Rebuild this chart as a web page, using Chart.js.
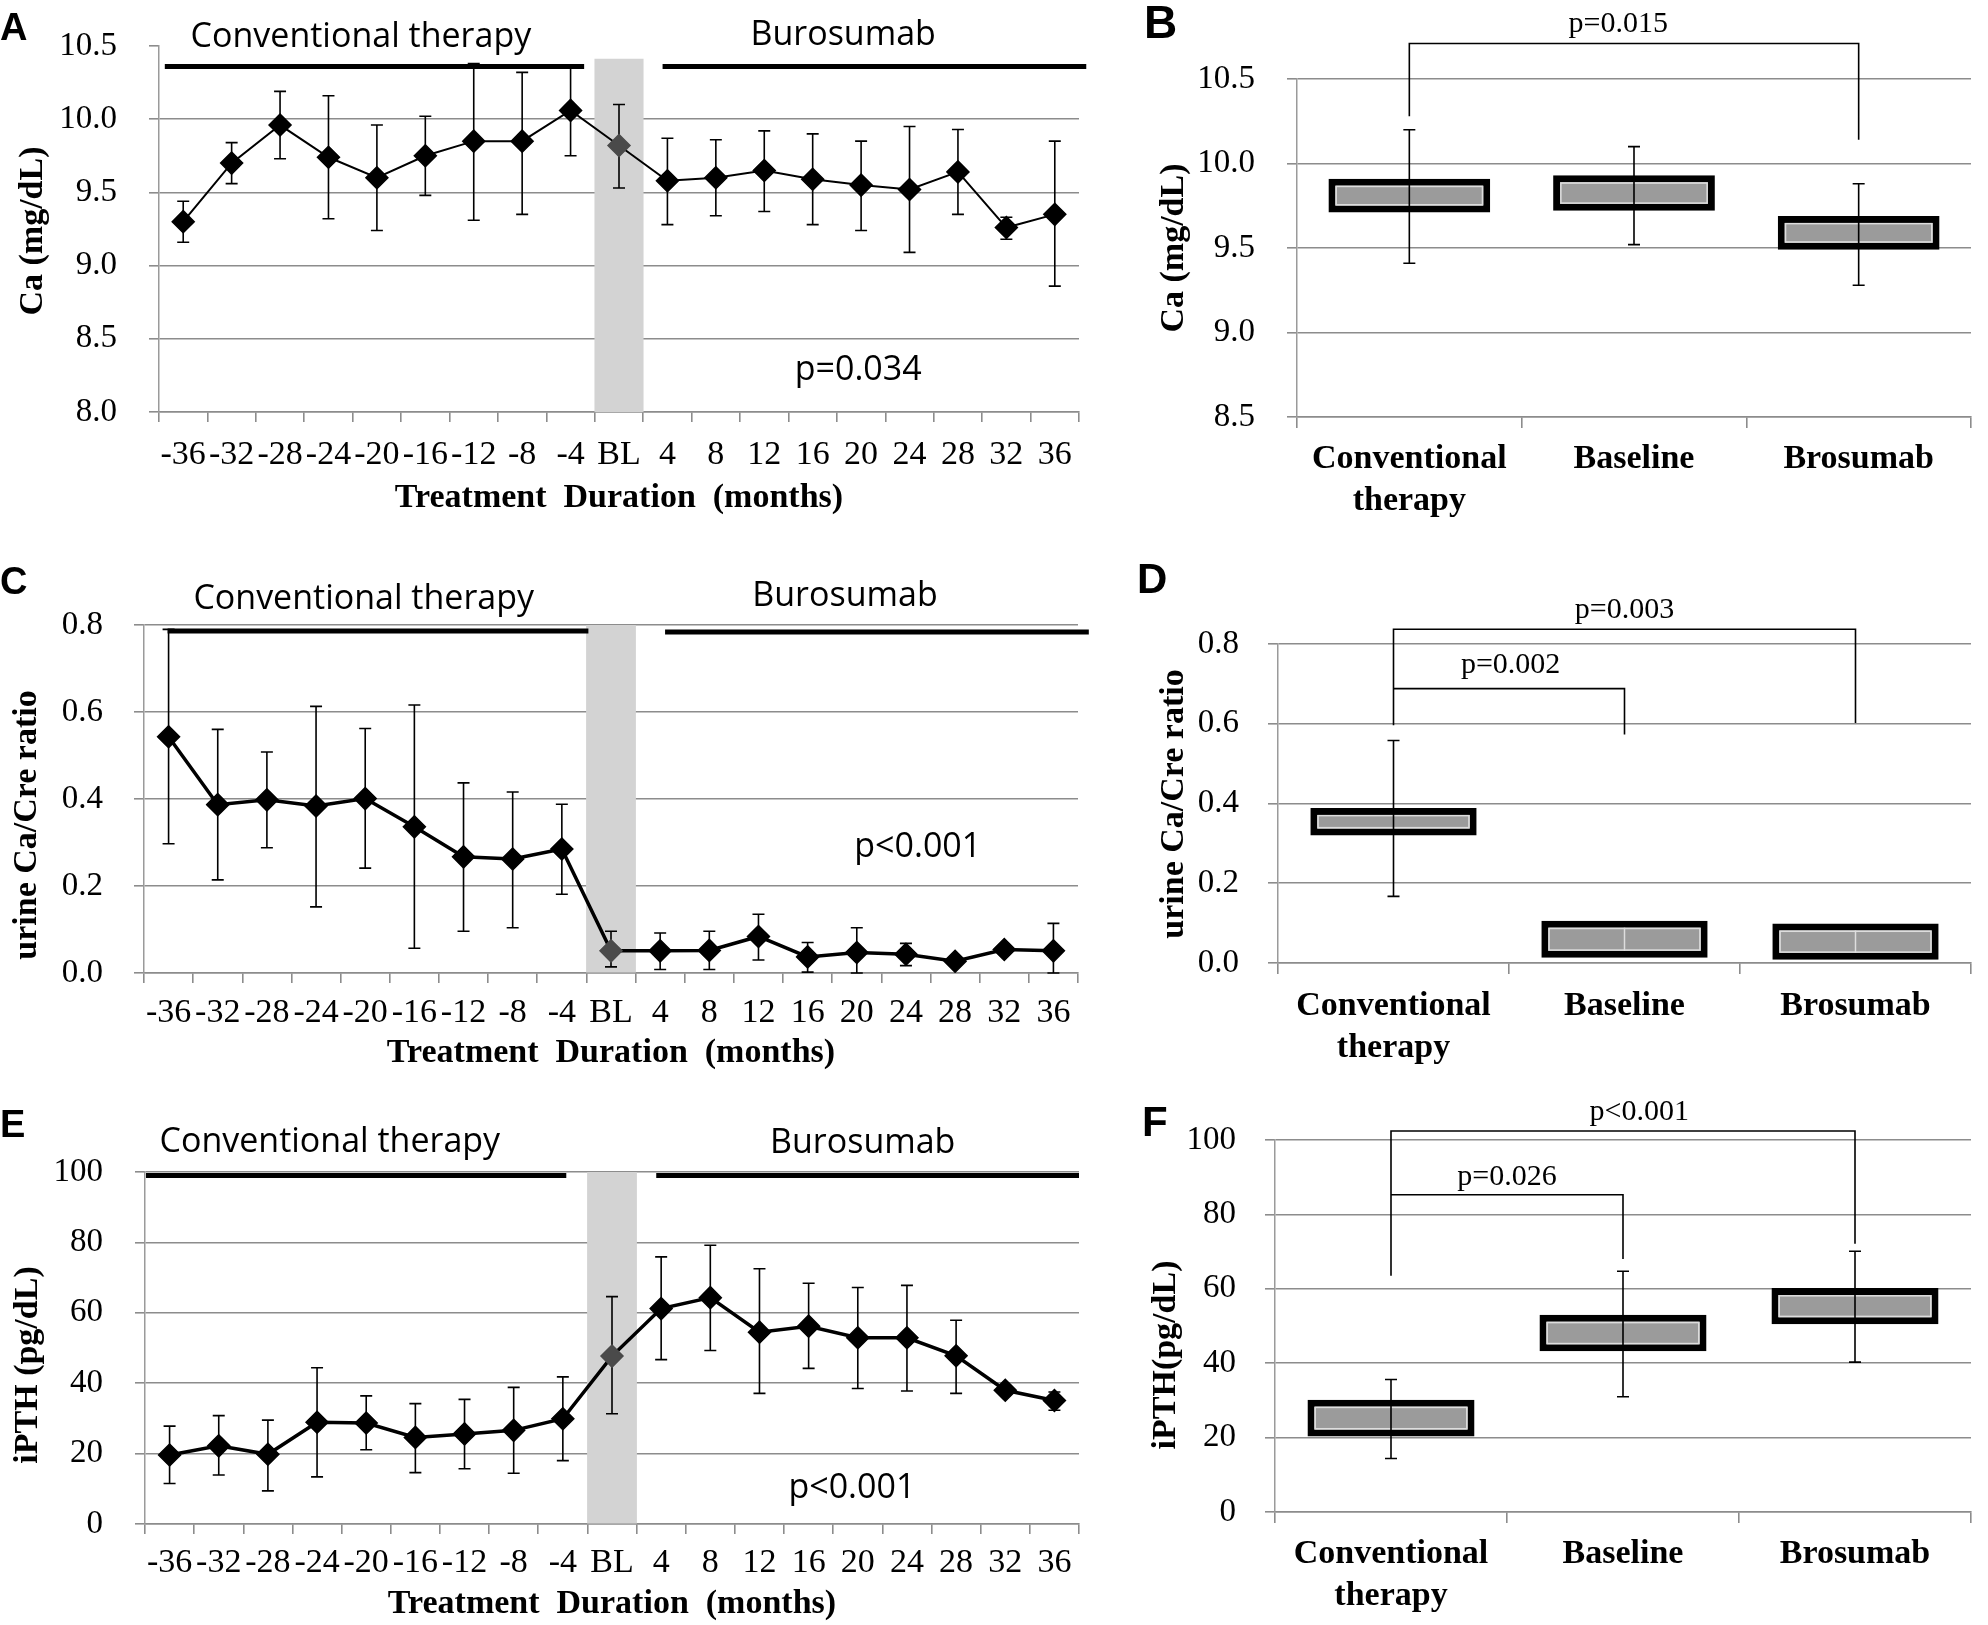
<!DOCTYPE html>
<html>
<head>
<meta charset="utf-8">
<title>Ca, urine Ca/Cre and iPTH</title>
<script src="https://cdn.jsdelivr.net/npm/chart.js@4.4.1/dist/chart.umd.min.js"></script>
<style>
  html, body { margin: 0; padding: 0; background: #fff; }
  body { position: relative; width: 1988px; height: 1625px; overflow: hidden; }
  canvas { position: absolute; }
  .tag { position: absolute; font-family: "Liberation Sans", Arial, sans-serif; font-weight: bold; color: #000; }
</style>
</head>
<body>
<canvas id="chartA" width="1150" height="540" style="left:0;top:0"></canvas>
<canvas id="chartB" width="838" height="540" style="left:1150px;top:0"></canvas>
<canvas id="chartC" width="1150" height="540" style="left:0;top:560px"></canvas>
<canvas id="chartD" width="838" height="540" style="left:1150px;top:560px"></canvas>
<canvas id="chartE" width="1150" height="525" style="left:0;top:1100px"></canvas>
<canvas id="chartF" width="838" height="525" style="left:1150px;top:1100px"></canvas>
<div class="tag" style="left:0px;top:8px;font-size:38px;line-height:38px">A</div>
<div class="tag" style="left:1144px;top:-1px;font-size:46px;line-height:46px">B</div>
<div class="tag" style="left:0px;top:562px;font-size:38px;line-height:38px">C</div>
<div class="tag" style="left:1137px;top:558px;font-size:42px;line-height:42px">D</div>
<div class="tag" style="left:0px;top:1105px;font-size:38px;line-height:38px">E</div>
<div class="tag" style="left:1142px;top:1101px;font-size:42px;line-height:42px">F</div>
<script>
// time points (months)
var months = ["-36", "-32", "-28", "-24", "-20", "-16", "-12", "-8", "-4", "BL",
  "4", "8", "12", "16", "20", "24", "28", "32", "36"];

// serum Ca (mg/dL): mean and error bar ends
var caMean = [9.30, 9.70, 9.96, 9.74, 9.60, 9.75, 9.85, 9.85, 10.06, 9.82, 9.58, 9.60, 9.65, 9.59, 9.55, 9.52, 9.64, 9.26, 9.35];
var caHigh = [9.44, 9.84, 10.19, 10.16, 9.96, 10.02, 10.38, 10.32, 10.35, 10.10, 9.87, 9.86, 9.92, 9.90, 9.85, 9.95, 9.93, 9.33, 9.85];
var caLow = [9.16, 9.56, 9.73, 9.32, 9.24, 9.48, 9.31, 9.35, 9.75, 9.53, 9.28, 9.34, 9.37, 9.28, 9.24, 9.09, 9.35, 9.18, 8.86];

// urine Ca/Cre ratio
var ratioMean = [0.543, 0.387, 0.398, 0.384, 0.401, 0.336, 0.267, 0.262, 0.285, 0.051, 0.051, 0.052, 0.084, 0.037, 0.047, 0.043, 0.027, 0.054, 0.051];
var ratioHigh = [0.79, 0.560, 0.508, 0.613, 0.562, 0.616, 0.437, 0.416, 0.388, 0.096, 0.092, 0.096, 0.135, 0.070, 0.104, 0.068, 0.032, 0.062, 0.114];
var ratioLow = [0.297, 0.214, 0.288, 0.152, 0.241, 0.057, 0.096, 0.104, 0.181, 0.014, 0.008, 0.008, 0.030, 0.002, 0.0, 0.017, 0.022, 0.046, 0.0];

// iPTH (pg/dL)
var pthMean = [19.6, 22.2, 19.8, 28.9, 28.7, 24.6, 25.6, 26.6, 29.9, 47.7, 61.2, 64.3, 54.5, 56.2, 52.9, 52.9, 47.8, 38.0, 35.1];
var pthHigh = [27.8, 30.8, 29.5, 44.4, 36.4, 34.2, 35.4, 38.8, 41.8, 64.6, 75.9, 79.2, 72.5, 68.4, 67.2, 67.8, 57.9, 39.0, 37.5];
var pthLow = [11.5, 13.9, 9.4, 13.4, 21.1, 14.6, 15.7, 14.4, 18.0, 31.3, 46.7, 49.3, 37.1, 44.2, 38.5, 37.8, 37.1, 37.0, 32.3];

// period groups (right-hand panels)
var groups = [["Conventional", "therapy"], "Baseline", "Brosumab"];
var caBoxLow = [9.71, 9.72, 9.49];
var caBoxHigh = [9.91, 9.93, 9.69];
var caBoxErrHigh = [10.20, 10.10, 9.88];
var caBoxErrLow = [9.41, 9.52, 9.28];
var ratioBoxLow = [0.320, 0.013, 0.008];
var ratioBoxHigh = [0.389, 0.106, 0.099];
var ratioBoxErrHigh = [0.558, null, null];
var ratioBoxErrLow = [0.167, null, null];
var pthBoxLow = [20.3, 43.2, 50.5];
var pthBoxHigh = [30.2, 53.0, 60.2];
var pthBoxErrHigh = [35.6, 64.7, 70.1];
var pthBoxErrLow = [14.4, 31.0, 40.3];

// y tick labels
var caTicks = [8.0, 8.5, 9.0, 9.5, 10.0, 10.5];
var caBoxTicks = [8.5, 9.0, 9.5, 10.0, 10.5];
var ratioTicks = [0.0, 0.2, 0.4, 0.6, 0.8];
var pthTicks = [0, 20, 40, 60, 80, 100];

var serif = "'Liberation Serif', 'Times New Roman', serif";
var sans = "'Open Sans', 'Noto Sans', sans-serif";
var gridGray = "#8c8c8c";

function drawErrors(chart, e) {
  var ctx = chart.ctx, x = chart.scales.x, y = chart.scales.y;
  ctx.save();
  ctx.strokeStyle = "#000";
  ctx.lineWidth = 1.6;
  for (var i = 0; i < e.high.length; i++) {
    if (e.high[i] == null) continue;
    var px = x.getPixelForValue(i);
    var top = y.getPixelForValue(e.high[i]);
    var bot = y.getPixelForValue(e.low[i]);
    ctx.beginPath();
    ctx.moveTo(px, top); ctx.lineTo(px, bot);
    ctx.moveTo(px - e.cap, top); ctx.lineTo(px + e.cap, top);
    ctx.moveTo(px - e.cap, bot); ctx.lineTo(px + e.cap, bot);
    ctx.stroke();
  }
  ctx.restore();
}

function extras(p) {
  return {
    id: "extras",
    afterDatasetDraw: function (chart, args) {
      if (p.errAfter === args.index) drawErrors(chart, p.err);
    },
    afterDatasetsDraw: function (chart) {
      var ctx = chart.ctx, x = chart.scales.x, y = chart.scales.y;
      ctx.save();
      if (p.boxes) {
        // thin light rim inside the thick box border
        chart.getDatasetMeta(0).data.forEach(function (el, i) {
          var b = el.getProps(["x", "y", "base", "width"], true);
          var top = Math.min(b.y, b.base), bot = Math.max(b.y, b.base);
          var bw = 7;
          ctx.strokeStyle = "#dedede";
          ctx.lineWidth = 1.5;
          ctx.strokeRect(b.x - b.width / 2 + bw + 0.75, top + bw + 0.75, b.width - 2 * bw - 1.5, bot - top - 2 * bw - 1.5);
          if (p.err.high[i] == null) {
            ctx.beginPath();
            ctx.moveTo(b.x, top + bw);
            ctx.lineTo(b.x, bot - bw);
            ctx.stroke();
          }
        });
        drawErrors(chart, p.err);
      }
      (p.spans || []).forEach(function (s) {
        ctx.strokeStyle = "#000";
        ctx.lineWidth = 5;
        ctx.beginPath();
        ctx.moveTo(x.getPixelForValue(s.x1), y.getPixelForValue(s.y));
        ctx.lineTo(x.getPixelForValue(s.x2), y.getPixelForValue(s.y));
        ctx.stroke();
      });
      (p.brackets || []).forEach(function (b) {
        ctx.strokeStyle = "#000";
        ctx.lineWidth = 1.6;
        ctx.beginPath();
        ctx.moveTo(x.getPixelForValue(b.x1), y.getPixelForValue(b.end1));
        ctx.lineTo(x.getPixelForValue(b.x1), y.getPixelForValue(b.y));
        ctx.lineTo(x.getPixelForValue(b.x2), y.getPixelForValue(b.y));
        ctx.lineTo(x.getPixelForValue(b.x2), y.getPixelForValue(b.end2));
        ctx.stroke();
      });
      ctx.fillStyle = "#000";
      ctx.textAlign = "center";
      ctx.textBaseline = "alphabetic";
      (p.notes || []).forEach(function (n) {
        ctx.font = n.font;
        ctx.fillText(n.text, x.getPixelForValue(n.x), y.getPixelForValue(n.y));
      });
      // y axis title
      ctx.font = "bold 34px " + serif;
      ctx.textBaseline = "middle";
      ctx.translate(p.yTitle.x, p.yTitle.y);
      ctx.rotate(-Math.PI / 2);
      ctx.fillText(p.yTitle.text, 0, 0);
      ctx.restore();
    }
  };
}

function yScale(d) {
  return {
    min: d.ticks[0],
    max: d.ticks[d.ticks.length - 1],
    afterBuildTicks: function (s) { s.ticks = d.ticks.map(function (v) { return { value: v }; }); },
    afterFit: function (s) { s.width = d.W; s.paddingTop = 0; s.paddingBottom = 0; },
    grid: {
      color: function (c) { return c.tick && c.tick.value === d.hideGrid ? "rgba(0,0,0,0)" : gridGray; },
      tickColor: gridGray,
      lineWidth: 1.6,
      tickLength: 10
    },
    border: { color: "#9a9a9a", width: 1.5 },
    ticks: {
      color: "#000",
      padding: d.yPad,
      font: { family: serif, size: 33 },
      callback: function (v) { return Number(v).toFixed(d.decimals); }
    }
  };
}

function linePanel(id, d) {
  var band = months.map(function (m) { return m === "BL" ? d.bandTop : null; });
  var pointColors = months.map(function (m) { return m === "BL" ? "#4a4a4a" : "#000"; });
  var noteFont = "34px " + sans;
  return new Chart(document.getElementById(id), {
    type: "line",
    data: {
      labels: months,
      datasets: [
        {
          data: d.mean,
          borderColor: "#000",
          borderWidth: d.lineWidth,
          tension: 0,
          fill: false,
          pointStyle: "rectRot",
          pointRadius: 11,
          pointBorderWidth: 1.5,
          pointBackgroundColor: pointColors,
          pointBorderColor: pointColors
        },
        {
          type: "bar",
          data: band,
          backgroundColor: "#d3d3d3",
          barPercentage: 1,
          categoryPercentage: 1
        }
      ]
    },
    options: {
      responsive: false,
      animation: false,
      devicePixelRatio: 1,
      events: [],
      layout: { autoPadding: false, padding: { top: d.top, right: d.right, left: 0, bottom: 0 } },
      plugins: { legend: { display: false }, tooltip: { enabled: false } },
      scales: {
        x: {
          type: "category",
          offset: true,
          afterFit: function (s) { s.height = d.H; s.paddingLeft = 0; s.paddingRight = 0; },
          grid: { offset: true, drawOnChartArea: false, color: gridGray, lineWidth: 1.6, tickLength: 10 },
          border: { color: gridGray, width: 1.6 },
          ticks: { color: "#000", padding: d.tickPad, autoSkip: false, maxRotation: 0, font: { family: serif, size: 34 } },
          title: {
            display: true,
            text: "Treatment  Duration  (months)",
            color: "#000",
            font: { family: serif, size: 34, weight: "bold", lineHeight: 1 },
            padding: { top: 0, bottom: d.titlePad }
          }
        },
        y: yScale(d)
      }
    },
    plugins: [extras({
      errAfter: 1,
      err: { high: d.high, low: d.low, cap: 6 },
      spans: d.spans,
      notes: [
        { text: "Conventional therapy", x: d.convText[0], y: d.convText[1], font: noteFont },
        { text: "Burosumab", x: d.buroText[0], y: d.buroText[1], font: noteFont },
        { text: d.pText, x: d.pPos[0], y: d.pPos[1], font: noteFont }
      ],
      yTitle: d.yTitle
    })]
  });
}

function boxPanel(id, d) {
  var bracketFont = "30px " + serif;
  return new Chart(document.getElementById(id), {
    type: "bar",
    data: {
      labels: groups,
      datasets: [{
        data: d.low.map(function (v, i) { return [v, d.high[i]]; }),
        backgroundColor: "#9b9b9b",
        borderColor: "#000",
        borderWidth: 7,
        borderSkipped: false,
        barPercentage: 0.72,
        categoryPercentage: 1
      }]
    },
    options: {
      responsive: false,
      animation: false,
      devicePixelRatio: 1,
      events: [],
      layout: { autoPadding: false, padding: { top: d.top, right: d.right, left: 0, bottom: 0 } },
      plugins: { legend: { display: false }, tooltip: { enabled: false } },
      scales: {
        x: {
          afterFit: function (s) { s.height = d.H; s.paddingLeft = 0; s.paddingRight = 0; },
          grid: { offset: true, drawOnChartArea: false, color: gridGray, lineWidth: 1.6, tickLength: 11 },
          border: { color: gridGray, width: 1.6 },
          ticks: { color: "#000", padding: d.tickPad, maxRotation: 0, font: { family: serif, size: 34, weight: "bold", lineHeight: 1.24 } }
        },
        y: yScale(d)
      }
    },
    plugins: [extras({
      boxes: true,
      err: { high: d.errHigh, low: d.errLow, cap: 6 },
      brackets: d.brackets,
      notes: d.brackets.map(function (b) { return { text: b.text, x: b.tx, y: b.ty, font: bracketFont }; }),
      yTitle: d.yTitle
    })]
  });
}

linePanel("chartA", {
  mean: caMean, high: caHigh, low: caLow, ticks: caTicks, decimals: 1, hideGrid: 10.5,
  W: 159, H: 128, top: 46, right: 71, tickPad: 13, titlePad: 25, yPad: 32, lineWidth: 2,
  bandTop: 10.41,
  spans: [{ x1: -0.38, x2: 8.28, y: 10.36 }, { x1: 9.9, x2: 18.65, y: 10.36 }],
  convText: [3.67, 10.49], buroText: [13.63, 10.51],
  pText: "p=0.034", pPos: [13.94, 8.22],
  yTitle: { text: "Ca (mg/dL)", x: 33, y: 231 }
});

linePanel("chartC", {
  mean: ratioMean, high: ratioHigh, low: ratioLow, ticks: ratioTicks, decimals: 1, hideGrid: null,
  W: 144, H: 127, top: 65, right: 72, tickPad: 10, titlePad: 30, yPad: 31, lineWidth: 3.5,
  bandTop: 0.8,
  spans: [{ x1: -0.02, x2: 8.54, y: 0.786 }, { x1: 10.1, x2: 18.72, y: 0.784 }],
  convText: [3.97, 0.837], buroText: [13.76, 0.844],
  pText: "p<0.001", pPos: [15.24, 0.267],
  yTitle: { text: "urine Ca/Cre ratio", x: 27, y: 265 }
});

linePanel("chartE", {
  mean: pthMean, high: pthHigh, low: pthLow, ticks: pthTicks, decimals: 0, hideGrid: null,
  W: 145, H: 101, top: 72, right: 71, tickPad: 9, titlePad: 4, yPad: 32, lineWidth: 3.5,
  bandTop: 100,
  spans: [{ x1: -0.48, x2: 8.07, y: 99 }, { x1: 9.9, x2: 18.5, y: 99 }],
  convText: [3.26, 105.7], buroText: [14.1, 105.4],
  pText: "p<0.001", pPos: [13.88, 7.4],
  yTitle: { text: "iPTH (pg/dL)", x: 28, y: 265 }
});

boxPanel("chartB", {
  low: caBoxLow, high: caBoxHigh, errHigh: caBoxErrHigh, errLow: caBoxErrLow,
  ticks: caBoxTicks, decimals: 1, hideGrid: null,
  W: 147, H: 123, top: 79, right: 17, tickPad: 10, yPad: 32,
  brackets: [{ x1: 0, x2: 2, y: 10.71, end1: 10.28, end2: 10.14, text: "p=0.015", tx: 0.93, ty: 10.78 }],
  yTitle: { text: "Ca (mg/dL)", x: 24, y: 248 }
});

boxPanel("chartD", {
  low: ratioBoxLow, high: ratioBoxHigh, errHigh: ratioBoxErrHigh, errLow: ratioBoxErrLow,
  ticks: ratioTicks, decimals: 1, hideGrid: null,
  W: 128, H: 137, top: 84, right: 17, tickPad: 11, yPad: 29,
  brackets: [
    { x1: 0, x2: 2, y: 0.837, end1: 0.596, end2: 0.602, text: "p=0.003", tx: 1.0, ty: 0.866 },
    { x1: 0, x2: 1, y: 0.688, end1: 0.688, end2: 0.573, text: "p=0.002", tx: 0.507, ty: 0.727 }
  ],
  yTitle: { text: "urine Ca/Cre ratio", x: 24, y: 244 }
});

boxPanel("chartF", {
  low: pthBoxLow, high: pthBoxHigh, errHigh: pthBoxErrHigh, errLow: pthBoxErrLow,
  ticks: pthTicks, decimals: 0, hideGrid: null,
  W: 125, H: 113, top: 40, right: 17, tickPad: 10, yPad: 29,
  brackets: [
    { x1: 0, x2: 2, y: 102.4, end1: 63.5, end2: 72.1, text: "p<0.001", tx: 1.07, ty: 105.4 },
    { x1: 0, x2: 1, y: 85.3, end1: 85.3, end2: 68.0, text: "p=0.026", tx: 0.5, ty: 87.9 }
  ],
  yTitle: { text: "iPTH(pg/dL)", x: 16, y: 255 }
});
</script>
</body>
</html>
